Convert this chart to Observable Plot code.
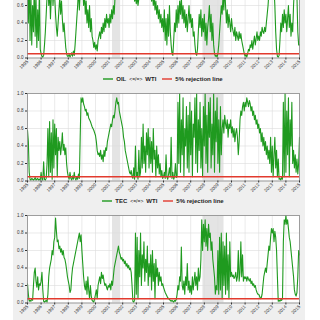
<!DOCTYPE html>
<html><head><meta charset="utf-8">
<script src="https://cdn.jsdelivr.net/npm/d3@7"></script>
<script src="https://cdn.jsdelivr.net/npm/@observablehq/plot@0.6"></script>
<style>
html,body{margin:0;padding:0;background:#fff;width:320px;height:320px;overflow:hidden;font-family:"Liberation Sans",Arial,sans-serif;}
#bg{position:absolute;left:13px;top:0;width:292px;height:320px;background:#efefef;}
.panel{position:absolute;left:0;width:320px;}
.panel svg{overflow:visible;background:transparent;}
.legend{position:absolute;left:0;width:326px;height:14px;display:flex;justify-content:center;align-items:center;gap:6px;font-size:6px;font-weight:bold;color:#222;white-space:nowrap;}
.legend .item{display:flex;align-items:center;}
.legend svg{margin-right:3px;}
.legend .mid{font-weight:normal;font-size:5px;margin:0 3px;}
</style></head>
<body>
<div id="bg"></div>
<div id="root"></div>
<script>
// time grid: 16 samples per year, 1995 .. 2015
const startYear = 1995, perYear = 16;
const yearTicks = [1995,1996,1997,1998,1999,2000,2001,2002,2003,2004,2005,2006,2007,2008,2009,2010,2011,2012,2013,2014,2015];
const yTicks = [0, 0.2, 0.4, 0.6, 0.8, 1.0];
const rejection = 0.05;
const recessions = [[2001.25, 2001.85], [2007.9, 2009.45]];
const panelLabels = [["OIL","WTI"],["TEC","WTI"],["TEC","WTI"]];

const oil = [
0.85,0.4,0.9,0.2,0.75,0.15,0.6,0.3,0.9,0.25,0.7,0.12,0.55,0.2,0.8,0.1,
0.05,0.02,0.01,0.03,0.15,0.3,0.5,0.7,0.9,0.6,0.8,0.45,0.7,0.95,0.6,0.8,
0.7,0.5,0.35,0.25,0.4,0.55,0.7,0.5,0.65,0.45,0.3,0.4,0.25,0.12,0.05,0.02,
0.02,0.04,0.01,0.03,0.06,0.02,0.08,0.03,0.15,0.3,0.45,0.6,0.8,0.55,0.75,0.9,
0.7,0.85,0.6,0.75,0.5,0.65,0.4,0.55,0.35,0.6,0.3,0.45,0.25,0.2,0.12,0.18,
0.1,0.15,0.08,0.2,0.25,0.3,0.22,0.35,0.28,0.4,0.3,0.45,0.35,0.5,0.4,0.45,
0.35,0.5,0.4,0.55,0.45,0.6,0.5,0.7,0.85,0.95,0.9,1.0,0.9,0.95,0.85,0.9,
0.9,0.8,0.95,0.85,0.9,0.8,0.75,0.85,0.9,0.8,0.85,0.75,0.7,0.8,0.65,0.7,
0.62,0.7,0.6,0.68,0.75,0.85,0.9,0.8,0.95,0.85,0.9,0.8,0.85,0.9,0.8,0.75,
0.7,0.8,0.65,0.75,0.6,0.7,0.55,0.65,0.5,0.6,0.45,0.55,0.4,0.5,0.35,0.45,
0.3,0.55,0.2,0.45,0.15,0.5,0.25,0.6,0.3,0.15,0.05,0.03,0.2,0.4,0.3,0.55,
0.35,0.6,0.4,0.65,0.5,0.7,0.45,0.6,0.4,0.55,0.35,0.5,0.3,0.45,0.6,0.4,
0.5,0.35,0.45,0.25,0.3,0.15,0.05,0.03,0.1,0.3,0.5,0.35,0.55,0.25,0.45,0.3,
0.5,0.2,0.4,0.15,0.35,0.45,0.6,0.3,0.5,0.2,0.4,0.15,0.05,0.02,0.03,0.01,
0.05,0.15,0.3,0.45,0.6,0.5,0.7,0.55,0.8,0.6,0.4,0.55,0.35,0.5,0.4,0.3,
0.45,0.35,0.3,0.25,0.35,0.2,0.3,0.25,0.2,0.3,0.22,0.28,0.2,0.15,0.1,0.05,
0.02,0.04,0.01,0.05,0.1,0.08,0.15,0.12,0.2,0.1,0.18,0.25,0.15,0.22,0.3,0.2,
0.25,0.2,0.3,0.25,0.35,0.3,0.28,0.35,0.3,0.4,0.5,0.6,0.75,0.9,0.8,0.95,
0.85,0.7,0.8,0.6,0.3,0.1,0.02,0.01,0.03,0.2,0.4,0.3,0.5,0.35,0.55,0.4,
0.5,0.3,0.45,0.6,0.35,0.5,0.25,0.4,0.3,0.6,0.8,0.95,1.0,0.7,0.3,0.15,
0.15];

const tec1 = [
0.58,0.45,0.1,0.02,0.01,0.03,0.02,0.01,0.02,0.04,0.01,0.02,0.03,0.01,0.02,0.01,
0.1,0.02,0.01,0.22,0.02,0.01,0.03,0.2,0.6,0.05,0.68,0.1,0.55,0.02,0.7,0.15,
0.65,0.3,0.6,0.05,0.5,0.35,0.45,0.3,0.4,0.55,0.35,0.42,0.3,0.38,0.2,0.1,
0.05,0.02,0.1,0.03,0.01,0.06,0.02,0.1,0.03,0.01,0.05,0.02,0.08,0.03,0.5,0.95,
0.9,0.95,0.88,0.85,0.8,0.82,0.75,0.78,0.72,0.7,0.68,0.65,0.62,0.6,0.58,0.55,
0.52,0.45,0.35,0.3,0.32,0.28,0.35,0.25,0.3,0.22,0.35,0.28,0.38,0.35,0.45,0.5,
0.55,0.6,0.65,0.62,0.7,0.75,0.72,0.8,0.9,0.95,0.88,0.9,0.8,0.75,0.7,0.65,
0.6,0.5,0.45,0.35,0.3,0.25,0.2,0.15,0.1,0.08,0.12,0.05,0.03,0.15,0.02,0.4,
0.05,0.1,0.02,0.35,0.05,0.1,0.5,0.15,0.65,0.2,0.4,0.1,0.55,0.3,0.6,0.15,
0.5,0.2,0.45,0.1,0.6,0.25,0.35,0.05,0.4,0.15,0.3,0.08,0.2,0.05,0.12,0.03,
0.05,0.1,0.03,0.3,0.05,0.02,0.08,0.15,0.05,0.5,0.03,0.1,0.02,0.05,0.2,0.04,
0.05,0.9,0.2,1.0,0.1,0.7,0.3,0.95,0.05,0.6,0.4,0.85,0.15,0.75,0.1,0.9,
0.3,0.8,0.05,0.65,0.5,0.95,0.2,1.0,0.1,0.7,0.35,0.9,0.15,0.6,0.05,0.85,
0.4,1.0,0.2,0.75,0.1,0.9,0.5,0.95,0.15,0.65,0.3,1.0,0.1,0.8,0.45,0.95,
0.2,0.7,0.1,0.85,0.3,0.6,0.7,0.55,0.75,0.65,0.6,0.7,0.5,0.65,0.6,0.7,
0.55,0.62,0.5,0.6,0.45,0.55,0.6,0.5,0.3,0.45,0.7,0.8,0.75,0.85,0.9,0.8,
0.9,0.85,0.95,0.9,0.85,0.92,0.88,0.8,0.85,0.75,0.8,0.7,0.75,0.65,0.7,0.6,
0.65,0.55,0.6,0.45,0.55,0.4,0.5,0.35,0.45,0.3,0.4,0.25,0.35,0.2,0.5,0.1,
0.4,0.05,0.3,0.5,0.15,0.35,0.05,0.25,0.02,0.03,0.01,0.04,0.02,0.9,0.05,1.0,
0.1,0.8,0.3,0.95,0.05,0.7,0.4,0.9,0.2,0.35,0.15,0.3,0.1,0.25,0.08,0.2,
0.5];

const tec2 = [
0.22,0.1,0.02,0.03,0.02,0.05,0.03,0.2,0.35,0.4,0.25,0.18,0.3,0.15,0.22,0.2,
0.25,0.35,0.15,0.02,0.01,0.02,0.03,0.01,0.1,0.3,0.4,0.45,0.5,0.6,0.55,0.7,
0.75,0.97,0.82,0.7,0.72,0.62,0.65,0.58,0.62,0.55,0.6,0.52,0.5,0.45,0.38,0.3,
0.25,0.2,0.12,0.15,0.3,0.4,0.45,0.5,0.55,0.6,0.65,0.7,0.75,0.8,0.7,0.78,
0.6,0.45,0.3,0.2,0.15,0.25,0.1,0.3,0.15,0.05,0.2,0.08,0.03,0.02,0.01,0.05,
0.1,0.15,0.05,0.2,0.25,0.3,0.22,0.35,0.28,0.32,0.25,0.2,0.22,0.18,0.15,0.2,
0.18,0.22,0.15,0.25,0.2,0.3,0.4,0.45,0.5,0.55,0.6,0.65,0.58,0.55,0.5,0.52,
0.48,0.5,0.45,0.48,0.42,0.45,0.4,0.43,0.38,0.4,0.35,0.2,0.02,0.01,0.03,0.8,
0.1,0.75,0.05,0.6,0.3,0.8,0.2,0.55,0.4,0.7,0.25,0.5,0.35,0.65,0.2,0.45,
0.3,0.55,0.15,0.6,0.25,0.45,0.05,0.5,0.3,0.4,0.2,0.35,0.25,0.3,0.2,0.22,
0.18,0.15,0.12,0.1,0.08,0.06,0.05,0.04,0.03,0.02,0.03,0.02,0.01,0.03,0.02,0.04,
0.1,0.2,0.15,0.3,0.25,0.64,0.2,0.15,0.25,0.1,0.3,0.2,0.45,0.15,0.25,0.12,
0.2,0.1,0.3,0.15,0.25,0.35,0.2,0.3,0.15,0.4,0.25,0.3,0.5,0.95,0.6,0.9,
0.7,0.95,0.65,0.85,0.6,0.9,0.75,0.8,0.6,0.7,0.5,0.4,0.3,0.1,0.2,0.15,
0.6,0.1,0.75,0.15,0.8,0.05,0.7,0.2,0.65,0.1,0.8,0.15,0.55,0.05,0.7,0.3,
0.35,0.3,0.32,0.28,0.3,0.35,0.25,0.3,0.6,0.25,0.35,0.7,0.3,0.55,0.25,0.3,
0.28,0.3,0.25,0.3,0.27,0.25,0.28,0.22,0.25,0.2,0.22,0.18,0.2,0.15,0.12,0.1,
0.1,0.08,0.05,0.06,0.1,0.2,0.3,0.35,0.4,0.35,0.45,0.55,0.65,0.6,0.75,0.85,
0.8,0.85,0.7,0.82,0.75,0.6,0.3,0.02,0.03,0.02,0.04,0.03,0.05,0.7,0.95,0.9,
1.0,0.9,0.95,0.85,0.75,0.7,0.6,0.5,0.4,0.3,0.15,0.1,0.08,0.12,0.3,0.6,
0.55];

const series = [oil, tec1, tec2];
const plotTops = [-30, 92.5, 215];
const mTop = 7, mBottom = 14, areaH = 87.5;
const green = "#1f9a1f", red = "#e23a2e";

const swatch = c => `<svg width="10" height="4" viewBox="0 0 10 4"><line x1="0" x2="10" y1="2" y2="2" stroke="${c}" stroke-width="1.4"/></svg>`;

const root = document.getElementById("root");
series.forEach((vals, k) => {
  const data = vals.map((v, i) => ({t: startYear + i / perYear, v}));
  // only label the y ticks that fall inside the page (first panel is cropped at the top)
  const shownY = yTicks.filter(t => plotTops[k] + areaH * (1 - t) >= 2);
  const chart = Plot.plot({
    width: 320,
    height: mTop + areaH + mBottom,
    marginTop: mTop, marginBottom: mBottom, marginLeft: 27, marginRight: 21,
    style: {fontSize: "4.6px", fontFamily: "Liberation Sans, Arial, sans-serif", background: "transparent", color: "#333"},
    x: {domain: [1995, 2015], label: null},
    y: {domain: [0, 1], label: null},
    marks: [
      Plot.frame({fill: "white", stroke: null}),
      Plot.rect(recessions, {x1: d => d[0], x2: d => d[1], y1: 0, y2: 1, fill: "#e4e4e4"}),
      Plot.gridX(yearTicks, {stroke: "#dcdcdc", strokeOpacity: 1, strokeWidth: 0.6}),
      Plot.gridY(yTicks, {stroke: "#dcdcdc", strokeOpacity: 1, strokeWidth: 0.6}),
      Plot.line(data, {x: "t", y: "v", stroke: green, strokeWidth: 1.1}),
      Plot.ruleY([rejection], {stroke: red, strokeWidth: 1.5}),
      Plot.frame({stroke: "#8a8a8a", strokeWidth: 0.8}),
      Plot.axisX(yearTicks, {tickFormat: d => String(d), tickRotate: -45, tickSize: 2, tickPadding: 1, label: null}),
      Plot.axisY(shownY, {tickFormat: d3.format(".1f"), tickSize: 2, tickPadding: 2, label: null})
    ]
  });
  const wrap = document.createElement("div");
  wrap.className = "panel";
  wrap.style.top = (plotTops[k] - mTop) + "px";
  wrap.appendChild(chart);
  root.appendChild(wrap);

  const lg = document.createElement("div");
  lg.className = "legend";
  lg.style.top = (plotTops[k] + areaH + 14) + "px";
  const [a, b] = panelLabels[k];
  lg.innerHTML = `<span class="item">${swatch(green)}${a}<span class="mid">&lt;=/=&gt;</span>${b}</span>` +
                 `<span class="item">${swatch(red)}5% rejection line</span>`;
  root.appendChild(lg);
});
</script>
</body></html>
